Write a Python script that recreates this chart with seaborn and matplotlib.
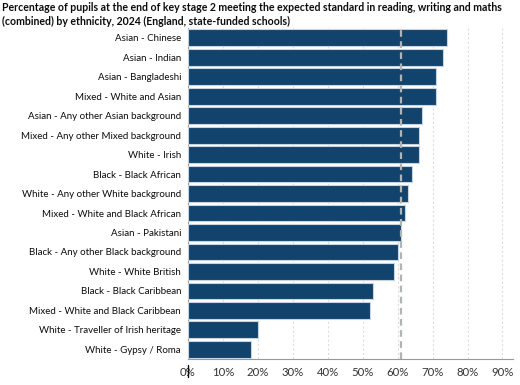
import seaborn as sns
import matplotlib.pyplot as plt
import pandas as pd
from matplotlib.ticker import PercentFormatter

ethnicities = [
    "Asian - Chinese", "Asian - Indian", "Asian - Bangladeshi",
    "Mixed - White and Asian", "Asian - Any other Asian background",
    "Mixed - Any other Mixed background", "White - Irish",
    "Black - Black African", "White - Any other White background",
    "Mixed - White and Black African", "Asian - Pakistani",
    "Black - Any other Black background", "White - White British",
    "Black - Black Caribbean", "Mixed - White and Black Caribbean",
    "White - Traveller of Irish heritage", "White - Gypsy / Roma",
]
percent_met = [74, 73, 71, 71, 67, 66, 66, 64, 63, 62, 61, 60, 59, 53, 52, 20, 18]
england_avg = 61
x_ticks = [0, 10, 20, 30, 40, 50, 60, 70, 80, 90]

df = pd.DataFrame({"ethnicity": ethnicities, "percent": percent_met})

sns.set_style("white")
plt.rcParams["font.family"] = ["Lato", "DejaVu Sans"]

fig = plt.figure(figsize=(5.2, 3.85), dpi=100)
ax = fig.add_axes([0.3615, 0.0675, 0.625, 0.8595])

sns.barplot(data=df, x="percent", y="ethnicity", color="#12436D", saturation=1,
            width=0.86, edgecolor="#c8d3de", linewidth=0.8, errorbar=None, ax=ax, zorder=3)

ax.set_xlim(0, 93)
ax.set_xticks(x_ticks)
ax.xaxis.set_major_formatter(PercentFormatter(decimals=0))
for t in x_ticks[1:] + [93]:
    ax.axvline(t, color="#dddddd", linestyle=(0, (2, 2)), linewidth=0.8, zorder=0)
ax.axvline(england_avg, color="#b1b4b6", linestyle=(0, (3, 2)), linewidth=1.6, zorder=4)

ax.set_xlabel("")
ax.set_ylabel("")
ax.tick_params(axis="y", length=4, width=0.8, color="#777777", labelsize=7.0,
               labelcolor="#0b0c0c", pad=1)
ax.tick_params(axis="x", length=0, labelsize=8.2, labelcolor="#333333", pad=6)

for side in ["top", "right"]:
    ax.spines[side].set_visible(False)
ax.spines["left"].set_color("#999999")
ax.spines["bottom"].set_color("#999999")
ax.spines["left"].set_linewidth(0.8)
ax.spines["bottom"].set_linewidth(0.8)

# small dark mark next to the 0% label
ax.plot([0, 0], [-0.018, -0.055], transform=ax.get_xaxis_transform(),
        color="#0b0c0c", linewidth=1, clip_on=False)
ax.set_ylim(16.5, -0.5)

fig.text(0.004, 0.995,
         "Percentage of pupils at the end of key stage 2 meeting the expected standard in reading, writing and maths\n"
         "(combined) by ethnicity, 2024 (England, state-funded schools)",
         ha="left", va="top", fontsize=7.6, fontweight="bold", color="#0b0c0c",
         linespacing=1.3)

fig.savefig("out.png", dpi=100)
